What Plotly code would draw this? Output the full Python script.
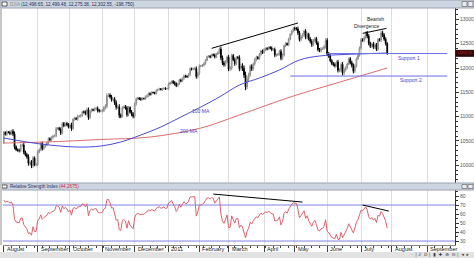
import numpy as np
import pandas as pd
import plotly.graph_objects as go

W, H = 474, 258

# ---------------- data ----------------
holidays = ['2010-09-06', '2010-11-25', '2010-12-24', '2011-01-17', '2011-02-21',
            '2011-04-22', '2011-05-30', '2011-07-04', '2011-09-05']

# July 2010 closes (RSI warm-up only)
warmup_close = [9732, 9686, 9743, 10018, 10139, 10198, 10216, 10364, 10367, 10359, 10097,
                10154, 10229, 10120, 10322, 10424, 10525, 10537, 10497, 10467, 10466]

close_aug10 = [10674, 10636, 10680, 10675, 10653, 10698, 10644, 10378, 10320, 10303, 10302, 10406,
               10416, 10271, 10213, 10174, 10040, 10060, 9985, 10150, 10010, 10015]
close_sep10 = [10270, 10320, 10448, 10341, 10387, 10415, 10462, 10544, 10526, 10573, 10595, 10608,
               10754, 10761, 10739, 10662, 10860, 10812, 10858, 10836, 10788]
close_oct10 = [10830, 10752, 10945, 10968, 10948, 11006, 11010, 11021, 11096, 11094, 11063, 11143,
               10978, 11108, 11146, 11133, 11164, 11169, 11126, 11114, 11118]
close_nov10 = [11125, 11189, 11216, 11434, 11445, 11406, 11347, 11357, 11284, 11193, 11202, 11024,
               11008, 11182, 11204, 11179, 11036, 11187, 11092, 11052, 11006]
close_dec10 = [11256, 11362, 11382, 11362, 11359, 11372, 11370, 11410, 11428, 11476, 11457, 11499,
               11492, 11478, 11534, 11559, 11573, 11555, 11575, 11585, 11570, 11578]
close_jan11 = [11671, 11691, 11722, 11697, 11675, 11637, 11671, 11755, 11732, 11787, 11837, 11825,
               11823, 11871, 11980, 11978, 11985, 11989, 11824, 11892]
close_feb11 = [12040, 12041, 12062, 12092, 12161, 12234, 12240, 12229, 12273, 12268, 12227, 12288,
               12318, 12391, 12212, 12105, 12068, 12130, 12226]
close_mar11 = [11980, 11993, 12258, 12170, 12090, 12214, 12213, 11985, 12044, 11993, 11855, 11613,
               11775, 11858, 12037, 11978, 12086, 12170, 12221, 12198, 12280, 12350, 12320]
close_apr11 = [12377, 12400, 12393, 12426, 12409, 12380, 12381, 12263, 12270, 12285, 12342, 12202,
               12266, 12453, 12506, 12480, 12595, 12691, 12763, 12811]
close_may11 = [12808, 12807, 12724, 12585, 12639, 12685, 12760, 12630, 12696, 12596, 12548, 12479,
               12561, 12605, 12512, 12381, 12356, 12395, 12403, 12441, 12570]
close_jun11 = [12290, 12248, 12151, 12089, 12070, 12049, 12125, 11952, 11953, 12076, 11897, 11962,
               12004, 12081, 12191, 12110, 12050, 11934, 12043, 12188, 12262, 12414]
close_jul11 = [12582, 12569, 12626, 12719, 12658, 12506, 12447, 12492, 12437, 12480, 12385, 12588,
               12572, 12724, 12681, 12593, 12502, 12302]

# intraday wick beyond the body (points)
wick = [30, 25, 40, 20, 35, 30, 45, 50, 30, 25, 40, 35, 25, 45, 30, 40, 50, 35, 45, 40, 30, 35,
        35, 25, 30, 40, 25, 30, 20, 35, 30, 25, 30, 20, 35, 25, 30, 40, 25, 30, 20, 35, 30,
        30, 45, 25, 30, 20, 35, 25, 30, 25, 30, 35, 40, 45, 30, 25, 20, 30, 35, 40, 30, 25,
        35, 30, 40, 45, 30, 35, 40, 30, 45, 50, 35, 55, 40, 30, 25, 35, 40, 30, 25, 45, 40,
        40, 30, 25, 20, 35, 25, 20, 25, 30, 20, 25, 20, 15, 20, 25, 15, 20, 15, 20, 15, 20, 15,
        30, 25, 20, 30, 35, 30, 25, 20, 25, 20, 30, 25, 30, 25, 35, 30, 25, 30, 45, 35,
        35, 25, 20, 30, 25, 20, 25, 30, 20, 25, 30, 25, 20, 30, 50, 45, 40, 35, 30,
        45, 40, 35, 30, 45, 30, 35, 50, 40, 55, 60, 70, 50, 45, 35, 40, 30, 35, 30, 25, 30, 25, 30,
        30, 25, 30, 20, 25, 35, 30, 40, 30, 25, 30, 45, 35, 30, 25, 20, 30, 25, 20, 30,
        40, 35, 45, 40, 35, 30, 25, 40, 35, 30, 40, 45, 35, 30, 35, 40, 30, 35, 25, 30, 40,
        45, 40, 35, 30, 35, 40, 30, 45, 40, 35, 50, 40, 35, 30, 25, 35, 40, 45, 35, 30, 25, 30,
        35, 30, 40, 35, 45, 40, 35, 30, 45, 40, 35, 30, 25, 40, 45, 35, 40, 30]

# moving averages (trading-day index, value)
ma100_idx = [0, 24, 48, 63, 76, 89, 102, 115, 128, 140, 153, 166, 179, 192, 205, 221, 238, 249]
ma100_val = [10560, 10436, 10374, 10395, 10477, 10621, 10786, 10992, 11198, 11403, 11650, 11794,
             11959, 12165, 12247, 12278, 12298, 12309]
ma200_idx = [0, 27, 63, 95, 128, 153, 186, 214, 249]
ma200_val = [10457, 10477, 10529, 10580, 10765, 11033, 11403, 11671, 12000]

# drawn lines (trading-day index, value)
trend_price_idx = [135, 191]
trend_price_val = [12405, 12926]
diverg_price_idx = [233, 248.5]
diverg_price_val = [12713, 12816]
support1_idx = [210, 288]
support1_val = [12298, 12298]
support2_idx = [186, 288]
support2_val = [11835, 11835]
trend_rsi_idx = [136, 194]
trend_rsi_val = [82.2, 73.3]
diverg_rsi_idx = [233, 250]
diverg_rsi_val = [70.0, 63.3]
rsi_levels = [70, 30]

month_labels = ['August', 'September', 'October', 'November', 'December', '2011', 'February',
                'March', 'April', 'May', 'June', 'July', 'August', 'September']
price_ticks = [10000, 10500, 11000, 11500, 12000, 12500, 13000]
rsi_ticks = [30, 40, 50, 60, 70, 80]
header_text = '(12,498.65, 12,499.48, 12,275.38, 12,302.55, -198.750)'
rsi_value_text = '(44.2675)'
last_price_text = '12302.55'

# ---------------- derived ----------------
close = (close_aug10 + close_sep10 + close_oct10 + close_nov10 + close_dec10 + close_jan11 +
         close_feb11 + close_mar11 + close_apr11 + close_may11 + close_jun11 + close_jul11)
n = len(close)
idx = list(range(n))
open_ = [warmup_close[-1]] + close[:-1]
high = [max(o, c) + w for o, c, w in zip(open_, close, wick)]
low = [min(o, c) - w for o, c, w in zip(open_, close, wick)]

days = pd.bdate_range('2010-08-02', '2011-09-30')
days = days[~days.isin(pd.to_datetime(holidays))]
month_idx = []
prev = None
for i, d in enumerate(days):
    if (d.year, d.month) != prev:
        month_idx.append(i)
        prev = (d.year, d.month)

allc = np.array(warmup_close + close, float)
dlt = np.diff(allc)
g = np.clip(dlt, 0, None)
l = np.clip(-dlt, 0, None)
N = 14
ag, al = g[:N].mean(), l[:N].mean()
rsi_all = [None] * len(allc)
rsi_all[N] = 100 - 100 / (1 + ag / al)
for i in range(N, len(dlt)):
    ag = (ag * (N - 1) + g[i]) / N
    al = (al * (N - 1) + l[i]) / N
    rsi_all[i + 1] = 100 - 100 / (1 + ag / al)
rsi = rsi_all[len(warmup_close):]

# ---------------- figure ----------------
def py(p):
    return 1 - p / H

def pxx(p):
    return p / W

fig = go.Figure()

fig.add_trace(go.Candlestick(
    x=idx, open=open_, high=high, low=low, close=close,
    increasing=dict(line=dict(color='#8c8c8c', width=1), fillcolor='#ffffff'),
    decreasing=dict(line=dict(color='#000000', width=1), fillcolor='#000000'),
    whiskerwidth=0, hoverinfo='skip', showlegend=False, xaxis='x', yaxis='y'))

fig.add_trace(go.Scatter(x=ma200_idx, y=ma200_val, mode='lines', line=dict(color='#e06b6b', width=1, shape='spline'),
                         hoverinfo='skip', showlegend=False))
fig.add_trace(go.Scatter(x=ma100_idx, y=ma100_val, mode='lines', line=dict(color='#4a4ad8', width=1, shape='spline'),
                         hoverinfo='skip', showlegend=False))
for xs, ys, col in [(support1_idx, support1_val, '#6e6ee6'), (support2_idx, support2_val, '#6e6ee6'),
                    (trend_price_idx, trend_price_val, '#000000'), (diverg_price_idx, diverg_price_val, '#000000')]:
    fig.add_trace(go.Scatter(x=xs, y=ys, mode='lines', line=dict(color=col, width=1),
                             hoverinfo='skip', showlegend=False))

# RSI panel
for lv in rsi_levels:
    fig.add_trace(go.Scatter(x=[-0.5, 293], y=[lv, lv], mode='lines', line=dict(color='#8080ea', width=1),
                             hoverinfo='skip', showlegend=False, xaxis='x2', yaxis='y2'))
fig.add_trace(go.Scatter(x=idx, y=rsi, mode='lines', line=dict(color='#e0606e', width=1),
                         hoverinfo='skip', showlegend=False, xaxis='x2', yaxis='y2'))
for xs, ys in [(trend_rsi_idx, trend_rsi_val), (diverg_rsi_idx, diverg_rsi_val)]:
    fig.add_trace(go.Scatter(x=xs, y=ys, mode='lines', line=dict(color='#000000', width=1),
                             hoverinfo='skip', showlegend=False, xaxis='x2', yaxis='y2'))

xdom = [pxx(3), pxx(455)]
xr = [-0.5, 293]
grid = '#dedede'
shapes = []
# header bars
for top, bot in [(0, 8), (183, 190)]:
    shapes.append(dict(type='rect', xref='paper', yref='paper', x0=0, x1=1, y0=py(bot), y1=py(top),
                       fillcolor='#cdd5e0', line=dict(color='#9aa3b0', width=1), layer='above'))
    shapes.append(dict(type='rect', xref='paper', yref='paper', x0=pxx(2), x1=pxx(7), y0=py(bot - 2), y1=py(top + 2),
                       fillcolor='#ffffff', line=dict(color='#333333', width=0.8), layer='above'))
    for bx in (462, 468):
        shapes.append(dict(type='rect', xref='paper', yref='paper', x0=pxx(bx), x1=pxx(bx + 5), y0=py(bot - 1.5), y1=py(top + 1.5),
                           fillcolor='#e8ecf2', line=dict(color='#555555', width=0.6), layer='above'))
# left strip
shapes.append(dict(type='rect', xref='paper', yref='paper', x0=0, x1=pxx(2), y0=py(245), y1=py(8),
                   fillcolor='#c6c6c6', line=dict(width=0), layer='above'))
# bottom strip
shapes.append(dict(type='rect', xref='paper', yref='paper', x0=0, x1=1, y0=0, y1=py(252),
                   fillcolor='#e2e2e2', line=dict(width=0), layer='above'))
# last price box
shapes.append(dict(type='rect', xref='paper', yref='y', x0=pxx(455.5), x1=1, y0=close[-1] - 72, y1=close[-1] + 72,
                   fillcolor='#2e0a0a', line=dict(width=0), layer='above'))

ann = []
fnt = 'Liberation Sans'
ann.append(dict(xref='paper', yref='paper', x=pxx(8), y=py(4), xanchor='left', yanchor='middle', showarrow=False,
                text="<span style='color:#8a8a8a'>DJIA</span> " + header_text,
                font=dict(family=fnt, size=4.6, color='#1c2c5a')))
ann.append(dict(xref='paper', yref='paper', x=pxx(8), y=py(186.7), xanchor='left', yanchor='middle', showarrow=False,
                text="Relative Strength Index <span style='color:#d0203a'>" + rsi_value_text + "</span>",
                font=dict(family=fnt, size=4.6, color='#1c2c5a')))
ann.append(dict(xref='paper', yref='y', x=pxx(464.8), y=close[-1], xanchor='center', yanchor='middle', showarrow=False,
                text=last_price_text, font=dict(family=fnt, size=3.7, color='#c02020')))
for mi, lab in zip(month_idx, month_labels):
    ann.append(dict(xref='x2', yref='paper', x=mi + 0.6, y=py(248.8), xanchor='left', yanchor='middle',
                    showarrow=False, text=lab, font=dict(family=fnt, size=5.6, color='#222222')))
for txt, xi, yv, col in [('Bearish', 241.5, 13010, '#222222'), ('Divergence', 236, 12862, '#222222'),
                         ('Support 1', 254.5, 12200, '#3f3fd0'), ('Support 2', 256, 11760, '#3f3fd0'),
                         ('100 MA', 121, 11115, '#3f3fd0'), ('200 MA', 113, 10700, '#3f3fd0')]:
    ann.append(dict(xref='x', yref='y', x=xi, y=yv, xanchor='left' if txt not in ('Bearish', 'Divergence') else 'center',
                    yanchor='middle', showarrow=False, text=txt, font=dict(family=fnt, size=5, color=col)))
ann.append(dict(xref='paper', yref='paper', x=pxx(472), y=py(255.2), xanchor='right', yanchor='middle', showarrow=False,
                text='\u00b7  | 2  D |  \u25ae  \u271a  \u2295  \u2296 |  \u25c2  \u25b8',
                font=dict(family='DejaVu Sans', size=4.5, color='#333333')))

fig.update_layout(
    width=W, height=H, margin=dict(l=0, r=0, t=0, b=0),
    paper_bgcolor='white', plot_bgcolor='white', showlegend=False,
    xaxis=dict(domain=xdom, range=xr, anchor='y', tickvals=month_idx, showticklabels=False, ticks='',
               showgrid=True, gridcolor=grid, gridwidth=1, zeroline=False, showline=False,
               rangeslider=dict(visible=False), fixedrange=True),
    yaxis=dict(domain=[py(183), py(8)], range=[9634, 13235], anchor='x', side='right',
               tickvals=price_ticks, ticktext=[str(t) for t in price_ticks],
               ticks='outside', ticklen=3, tickcolor='#333333', tickfont=dict(family=fnt, size=5, color='#555555'),
               showline=True, linecolor='#333333', linewidth=1, showgrid=False, zeroline=False,
               minor=dict(dtick=100, tick0=0, ticks='outside', ticklen=1.5, tickcolor='#333333'),
               automargin=False),
    xaxis2=dict(domain=xdom, range=xr, anchor='y2', matches='x', tickvals=month_idx, showticklabels=False,
                ticks='outside', ticklen=7, tickcolor='#444444', showgrid=True, gridcolor=grid, zeroline=False,
                showline=True, linecolor='#888888', linewidth=1,
                minor=dict(dtick=5, tick0=0, ticks='outside', ticklen=2, tickcolor='#444444', showgrid=False)),
    yaxis2=dict(domain=[py(245), py(190)], range=[25.6, 86.7], anchor='x2', side='right',
                tickvals=rsi_ticks, ticktext=[str(t) for t in rsi_ticks],
                ticks='outside', ticklen=3, tickcolor='#333333', tickfont=dict(family=fnt, size=5, color='#555555'),
                showline=True, linecolor='#333333', linewidth=1, showgrid=False, zeroline=False,
                minor=dict(dtick=5, tick0=0, ticks='outside', ticklen=1.5, tickcolor='#333333'),
                automargin=False),
    shapes=shapes, annotations=ann,
)

fig.write_html('out.html')
